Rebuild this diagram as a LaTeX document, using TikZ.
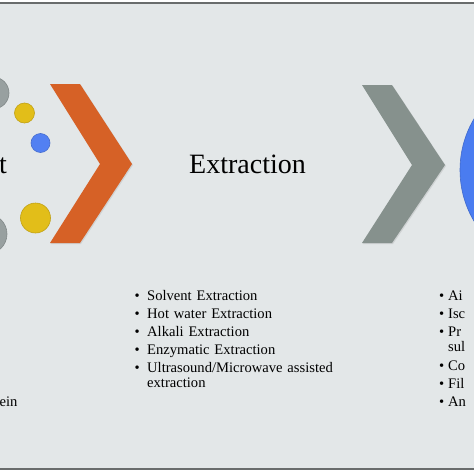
\documentclass[tikz,border=0pt]{standalone}
\usepackage{fontspec}
\setmainfont{Liberation Serif}
\usepackage{tikz}
\usetikzlibrary{shadows}

\definecolor{panelgray}{RGB}{227,231,232}
\definecolor{framegray}{RGB}{105,108,108}
\definecolor{arroworange}{RGB}{214,97,38}
\definecolor{arrowgray}{RGB}{134,145,141}
\definecolor{dotgray}{RGB}{152,160,160}
\definecolor{dotyellow}{RGB}{226,190,25}
\definecolor{dotblue}{RGB}{82,128,242}
\definecolor{bigblue}{RGB}{74,124,240}

\begin{document}
\begin{tikzpicture}[x=1pt, y=-1pt,
        dot_style/.style={circle, inner sep=0pt, draw=#1!85!black, line width=0.6pt, fill=#1},
        chevron_style/.style={fill=#1, draw=none, drop shadow={shadow xshift=1pt, shadow yshift=-1pt, opacity=0.2}},
        title_style/.style={anchor=base west, inner sep=0pt, font=\fontsize{28}{32}\selectfont},
        item_style/.style={anchor=base west, inner sep=0pt, text width=200pt, align=left, font=\fontsize{14.6}{15.6}\selectfont},
        piece_style/.style={anchor=base west, inner sep=0pt, font=\fontsize{14.6}{15.6}\selectfont}]

        \useasboundingbox (0,0) rectangle (474,474);
        \fill [white] (0,0) rectangle (474,474);
        \fill [panelgray] (0,3) rectangle (474,469);
        \draw [framegray, line width=1.2pt] (0,3) -- (474,3);
        \draw [framegray, line width=1.2pt] (0,469) -- (474,469);

        \node [dot_style=dotgray, minimum size=32pt] (gray_top) at (-7,93) {};

        \node [dot_style=dotgray, minimum size=40pt] (gray_bottom) at (-13,234) {};

        \node [dot_style=dotyellow, minimum size=20pt] (yellow_small) at (24.5,113) {};

        \node [dot_style=dotblue, minimum size=19pt] (blue_small) at (40.5,143) {};

        \node [dot_style=dotyellow, minimum size=30pt] (yellow_big) at (35.5,218) {};

        \node [dot_style=bigblue, minimum size=200pt] (blue_big) at (560,170) {};

        \fill [chevron_style=arroworange] (50,84) -- (80,84) -- (132,164) -- (80,243) -- (50,243) -- (100,164) -- cycle;

        \fill [chevron_style=arrowgray] (362,85) -- (392,85) -- (445,165) -- (392,243) -- (362,243) -- (412,165) -- cycle;

        \node [title_style] (left_title) at (-1,173) {t};

        \node [title_style] (mid_title) at (189,173) {Extraction};

        \node [item_style] (mid_a) at (147,300) {\llap{\textbullet\hspace{7.5pt}}Solvent Extraction};

        \node [item_style] (mid_b) at (147,318) {\llap{\textbullet\hspace{7.5pt}}Hot water Extraction};

        \node [item_style] (mid_c) at (147,336) {\llap{\textbullet\hspace{7.5pt}}Alkali Extraction};

        \node [item_style] (mid_d) at (147,354) {\llap{\textbullet\hspace{7.5pt}}Enzymatic Extraction};

        \node [item_style] (mid_e) at (147,372) {\llap{\textbullet\hspace{7.5pt}}Ultrasound/Microwave assisted\\extraction};

        \node [piece_style] (left_end) at (-0.5,406) {ein};

        \node [piece_style] (right_a) at (448,300) {\llap{\textbullet\hspace{4pt}}Ai};

        \node [piece_style] (right_b) at (448,318) {\llap{\textbullet\hspace{4pt}}Isc};

        \node [piece_style] (right_c) at (448,336) {\llap{\textbullet\hspace{4pt}}Pr};

        \node [piece_style] (right_c2) at (448,351.6) {sul};

        \node [piece_style] (right_d) at (448,370) {\llap{\textbullet\hspace{4pt}}Co};

        \node [piece_style] (right_e) at (448,388) {\llap{\textbullet\hspace{4pt}}Fil};

        \node [piece_style] (right_f) at (448,406) {\llap{\textbullet\hspace{4pt}}An};

        \end{tikzpicture}
\end{document}
